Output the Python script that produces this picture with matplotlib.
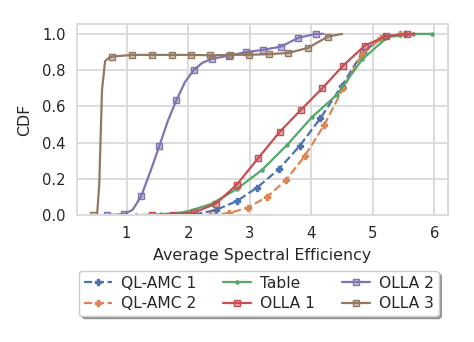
import numpy as np
import matplotlib
matplotlib.use("Agg")
import matplotlib.pyplot as plt
import seaborn as sns
from matplotlib.colors import to_rgba

sns.set_theme(style="whitegrid", palette="deep")
plt.rcParams['font.family'] = ['DejaVu Sans']

# average spectral efficiency CDFs, one curve per link adaptation scheme
ql1_x = [2.10, 2.45, 2.79, 3.12, 3.47, 3.81, 4.15, 4.50, 4.84, 5.18, 5.52]
ql1_y = [0.003, 0.028, 0.077, 0.152, 0.252, 0.381, 0.535, 0.715, 0.900, 0.985, 1.0]

ql2_x = [2.35, 2.66, 2.97, 3.28, 3.59, 3.90, 4.21, 4.52, 4.83, 5.14, 5.45]
ql2_y = [0.001, 0.010, 0.042, 0.100, 0.193, 0.328, 0.497, 0.700, 0.890, 0.975, 0.998]

table_x = [1.15, 1.56, 1.97, 2.38, 2.79, 3.20, 3.61, 4.01, 4.42, 4.83, 5.24, 5.65, 5.96]
table_y = [0.0, 0.004, 0.018, 0.062, 0.144, 0.249, 0.388, 0.540, 0.665, 0.860, 0.982, 1.0, 1.0]

olla1_x = [1.41, 1.76, 2.10, 2.45, 2.79, 3.14, 3.49, 3.83, 4.18, 4.52, 4.87, 5.22, 5.56, 5.68]
olla1_y = [0.0, 0.003, 0.015, 0.063, 0.168, 0.315, 0.460, 0.580, 0.700, 0.825, 0.935, 0.988, 1.0, 1.0]
olla1_marks = list(range(13))

olla2_x = [0.68, 0.96, 1.10, 1.24, 1.38, 1.53, 1.67, 1.81, 1.95, 2.09, 2.23, 2.38,
           2.66, 2.94, 3.22, 3.51, 3.79, 4.07, 4.20]
olla2_y = [0.0, 0.005, 0.030, 0.107, 0.235, 0.380, 0.520, 0.635, 0.735, 0.800, 0.840, 0.862,
           0.880, 0.899, 0.912, 0.930, 0.978, 1.0, 1.0]
olla2_marks = [0, 1, 3, 5, 7, 9, 11, 12, 13, 14, 15, 16, 17]

olla3_x = [0.40, 0.46, 0.52, 0.555, 0.60, 0.65, 0.72, 0.77, 1.09, 1.41, 1.73, 2.05,
           2.36, 2.68, 2.99, 3.31, 3.63, 3.95, 4.27, 4.50]
olla3_y = [0.0, 0.0, 0.0, 0.17, 0.69, 0.85, 0.870, 0.875, 0.884, 0.884, 0.884, 0.884,
           0.882, 0.884, 0.885, 0.888, 0.895, 0.923, 0.985, 1.0]
olla3_marks = [1, 7, 8, 9, 10, 11, 12, 13, 14, 15, 16, 17, 18]

pal = sns.color_palette("deep")

fig = plt.figure(figsize=(4.74, 3.42), dpi=100)
ax = fig.add_axes([0.162, 0.371, 0.784, 0.558])

ax.plot(ql1_x, ql1_y, '--', color=pal[0], lw=1.6, marker='P', ms=4.2, label='QL-AMC 1')
ax.plot(ql2_x, ql2_y, '--', color=pal[1], lw=1.6, marker='P', ms=4.2, label='QL-AMC 2')
ax.plot(table_x, table_y, '-', color=pal[2], lw=1.6, marker='.', ms=4.5, label='Table')


def square_line(x, y, c, marks, name):
    ax.plot(x, y, '-', color=c, lw=1.6, marker='s', ms=4.6, markevery=marks,
            mfc=to_rgba(c, 0.45), mec=c, mew=1.0, label=name)


square_line(olla1_x, olla1_y, pal[3], olla1_marks, 'OLLA 1')
square_line(olla2_x, olla2_y, pal[4], olla2_marks, 'OLLA 2')
square_line(olla3_x, olla3_y, pal[5], olla3_marks, 'OLLA 3')

ax.set_xlim(0.19, 6.23)
ax.set_ylim(0, 1.053)
ax.set_xticks([1, 2, 3, 4, 5, 6])
ax.set_yticks([0.0, 0.2, 0.4, 0.6, 0.8, 1.0])
ax.set_yticklabels(['0.0', '0.2', '0.4', '0.6', '0.8', '1.0'])
ax.tick_params(axis='both', labelsize=10.6, length=0, pad=8)
ax.set_xlabel('Average Spectral Efficiency', fontsize=11.4, labelpad=5)
ax.set_ylabel('CDF', fontsize=11.4, labelpad=7)
ax.grid(True, color='#dcdcdc', lw=1.4)
for s in ax.spines.values():
    s.set_color('#dcdcdc')
    s.set_linewidth(1.4)

ax.legend(loc='upper center', bbox_to_anchor=(0.49, -0.252), ncol=3, fontsize=11.2,
          shadow=True, fancybox=True, frameon=True, handlelength=1.8,
          handletextpad=0.57, columnspacing=1.75, borderpad=0.3, labelspacing=0.35)

fig.savefig('out.png', dpi=100)
